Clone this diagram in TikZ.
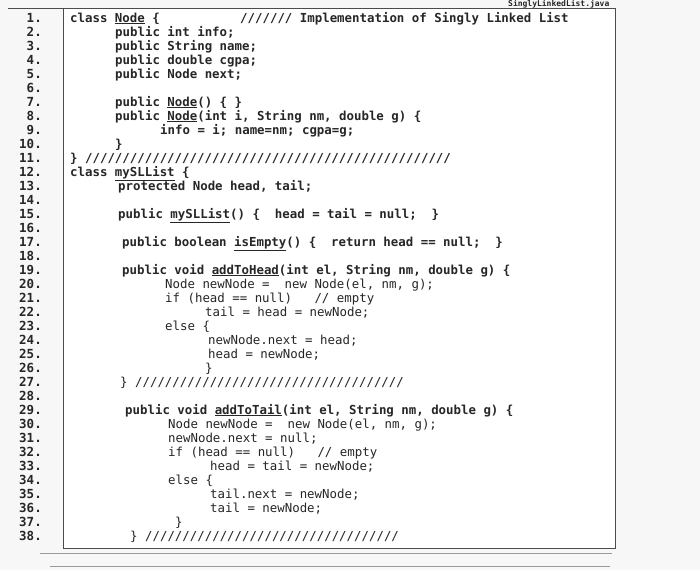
\documentclass[tikz,border=0pt]{standalone}
\usepackage{fontspec}
\setmonofont{DejaVu Sans Mono}
\begin{document}
\begin{tikzpicture}[x=1pt,y=-1pt,
  code/.style={anchor=base west,inner sep=0pt,font=\fontsize{12.4}{14}\ttfamily\bfseries,text=black!85},
  lite/.style={anchor=base west,inner sep=0pt,font=\fontsize{12.4}{14}\ttfamily,text=black!85},
  num/.style={anchor=base east,inner sep=0pt,font=\fontsize{12.5}{14}\ttfamily\bfseries,text=black!85},
  frame/.style={draw=black!70,line width=0.8pt}]
\useasboundingbox[fill=white] (0,0) rectangle (700,570);
\fill[black!3] (0,0) rectangle (700,570);
\fill[white] (63,8) rectangle (615,548);
\draw[frame] (63,8) rectangle (615,548);
\draw[frame] (8,8) -- (63,8);
\draw[black!40] (40,553) -- (612,553);
\draw[black!40] (50,566) -- (610,566);
\node[lite,font=\fontsize{8}{9}\ttfamily\bfseries] (hdr) at (508,6) {SinglyLinkedList.java};
\foreach \i in {1,...,38}{
  \node[num] (n\i) at (42,{22+14*(\i-1)}) {\i.};
}
\def\L#1{{22+14*(#1-1)}}
\node[code] (c1) at (70,\L{1}) {class \underline{Node} \{};
\node[code] (c1b) at (240,\L{1}) {/////// Implementation of Singly Linked List};
\node[code] (c2) at (115,\L{2}) {public int info;};
\node[code] (c3) at (115,\L{3}) {public String name;};
\node[code] (c4) at (115,\L{4}) {public double cgpa;};
\node[code] (c5) at (115,\L{5}) {public Node next;};
\node[code] (c7) at (115,\L{7}) {public \underline{Node}() \{ \}};
\node[code] (c8) at (115,\L{8}) {public \underline{Node}(int i, String nm, double g) \{};
\node[code] (c9) at (160,\L{9}) {info = i; name=nm; cgpa=g;};
\node[code] (c10) at (115,\L{10}) {\}};
\node[code] (c11) at (70,\L{11}) {\} /////////////////////////////////////////////////};
\node[code] (c12) at (70,\L{12}) {class \underline{mySLList} \{};
\node[code] (c13) at (118,\L{13}) {protected Node head, tail;};
\node[code] (c15) at (118,\L{15}) {public \underline{mySLList}() \{\ \ head = tail = null;\ \ \}};
\node[code] (c17) at (122,\L{17}) {public boolean \underline{isEmpty}() \{\ \ return head == null;\ \ \}};
\node[code] (c19) at (122,\L{19}) {public void \underline{addToHead}(int el, String nm, double g) \{};
\node[lite] (c20) at (165,\L{20}) {Node newNode =\ \ new Node(el, nm, g);};
\node[lite] (c21) at (165,\L{21}) {if (head == null)\ \ \ // empty};
\node[lite] (c22) at (205,\L{22}) {tail = head = newNode;};
\node[lite] (c23) at (165,\L{23}) {else \{};
\node[lite] (c24) at (208,\L{24}) {newNode.next = head;};
\node[lite] (c25) at (208,\L{25}) {head = newNode;};
\node[lite] (c26) at (205,\L{26}) {\}};
\node[lite] (c27) at (120,\L{27}) {\} ////////////////////////////////////};
\node[code] (c29) at (125,\L{29}) {public void \underline{addToTail}(int el, String nm, double g) \{};
\node[lite] (c30) at (168,\L{30}) {Node newNode =\ \ new Node(el, nm, g);};
\node[lite] (c31) at (168,\L{31}) {newNode.next = null;};
\node[lite] (c32) at (168,\L{32}) {if (head == null)\ \ \ // empty};
\node[lite] (c33) at (210,\L{33}) {head = tail = newNode;};
\node[lite] (c34) at (168,\L{34}) {else \{};
\node[lite] (c35) at (210,\L{35}) {tail.next = newNode;};
\node[lite] (c36) at (210,\L{36}) {tail = newNode;};
\node[lite] (c37) at (175,\L{37}) {\}};
\node[lite] (c38) at (130,\L{38}) {\} //////////////////////////////////};
\end{tikzpicture}
\end{document}
